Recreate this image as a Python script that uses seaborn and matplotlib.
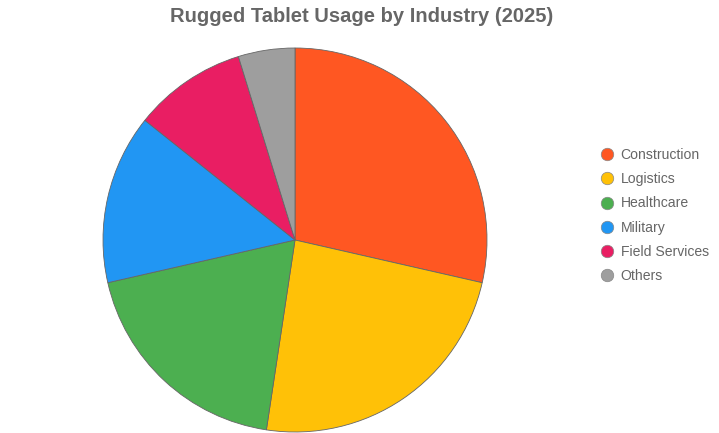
import matplotlib
matplotlib.use("Agg")
import matplotlib.pyplot as plt
from matplotlib.lines import Line2D
import seaborn as sns

# data
industries = ["Construction", "Logistics", "Healthcare", "Military", "Field Services", "Others"]
usage = [30, 25, 20, 15, 10, 5]
colors = ["#FF5722", "#FFC107", "#4CAF50", "#2196F3", "#E91E63", "#9E9E9E"]

sns.set_theme(style="white")
plt.rcParams["font.family"] = ["Liberation Sans", "DejaVu Sans"]
palette = sns.color_palette(colors)

W, H = 719, 433
fig = plt.figure(figsize=(W / 100, H / 100), dpi=100)

# pie: centre ~ (295, 240) px, radius ~192 px
cx, cy, r = 295, 240, 192
ax = fig.add_axes([(cx - r) / W, (H - cy - r) / H, 2 * r / W, 2 * r / H])
ax.pie(usage, colors=palette, startangle=90, counterclock=False,
       wedgeprops=dict(edgecolor="#666666", linewidth=0.6))
ax.set_xlim(-1, 1)
ax.set_ylim(-1, 1)
ax.axis("off")

fig.text(362 / W, 1 - 17 / H, "Rugged Tablet Usage by Industry (2025)",
         ha="center", va="center", fontsize=14.5, fontweight="bold", color="#666666")

handles = [Line2D([0], [0], marker="o", linestyle="", markersize=9,
                  markerfacecolor=c, markeredgecolor="#888888", markeredgewidth=0.5)
           for c in palette]
fig.legend(handles, industries, loc="center left", bbox_to_anchor=(599 / W, 1 - 215.5 / H),
           frameon=False, fontsize=10.1, labelcolor="#666666", handletextpad=0.35,
           labelspacing=0.72, handlelength=1.2, borderaxespad=0, borderpad=0)

fig.savefig("out.png", dpi=100)
